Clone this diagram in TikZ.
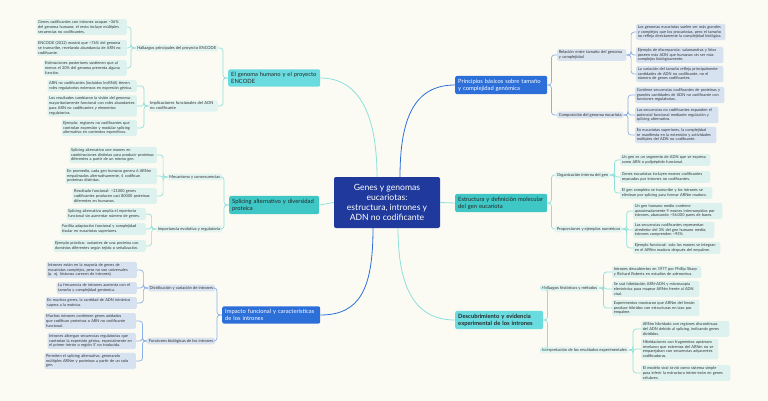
\documentclass[tikz,border=0pt]{standalone}
\usepackage{fontspec}
\setmainfont{Lato}
\begin{document}
\hyphenpenalty=10000\relax
\exhyphenpenalty=10000\relax
\begin{tikzpicture}[x=1pt,y=-1pt,
  every node/.style={font=\fontsize{3.9}{4.8}\selectfont, text=black!80, inner sep=1.6pt, rounded corners=1.5pt, align=left},
  leafT/.style={fill=tealL},
  leafB/.style={fill=blueL},
  subT/.style={fill=tealS, font=\fontsize{4.1}{5}\selectfont},
  subB/.style={fill=blueS, font=\fontsize{4.1}{5}\selectfont},
  mainC/.style={fill=cyanM, font=\fontsize{5.8}{7}\selectfont, inner sep=3pt, rounded corners=2pt, text=black!85},
  mainT/.style={fill=tealM, font=\fontsize{5.8}{7}\selectfont, inner sep=3pt, rounded corners=2pt, text=black!85},
  mainB/.style={fill=blueM, font=\fontsize{5.8}{7}\selectfont, inner sep=3pt, rounded corners=2pt, text=white},
  lT/.style={draw=tealLine, line width=0.7pt, rounded corners=3pt},
  lB/.style={draw=blueLine, line width=0.7pt, rounded corners=3pt},
  cT/.style={draw=tealLine, line width=0.8pt},
  cB/.style={draw=blueC, line width=0.8pt},
]
\definecolor{bg}{HTML}{FBFBF3}
\definecolor{tealL}{HTML}{DDF2EE}
\definecolor{blueL}{HTML}{D6E2F0}
\definecolor{tealS}{HTML}{E2F4F1}
\definecolor{blueS}{HTML}{DAE4F0}
\definecolor{cyanM}{HTML}{6ADCE0}
\definecolor{tealM}{HTML}{3FC7C6}
\definecolor{blueM}{HTML}{2C6FD9}
\definecolor{tealLine}{HTML}{8EE0DC}
\definecolor{blueLine}{HTML}{8CB0EA}
\definecolor{blueC}{HTML}{2C6FD9}
\definecolor{centerC}{HTML}{1F3A9C}
\fill[bg] (0,0) rectangle (768,401);
\useasboundingbox (0,0) rectangle (768,401);

% center
\node[fill=centerC, font=\fontsize{8.6}{10.2}\selectfont, align=center, minimum width=106pt, minimum height=51pt, inner sep=3pt, rounded corners=2pt, text=white] (c) at (387,202.5) {Genes y genomas\\eucariotas:\\estructura, intrones y\\ADN no codificante};
\coordinate (cn1) at (377,177);
\coordinate (cn4) at (400,177);
\coordinate (cs3) at (373,228);
\coordinate (cs6) at (398,228);

% ===== Left 1: ENCODE
\node[mainC, anchor=west, text width=86pt] (m1) at (228,78) {El genoma humano y el proyecto ENCODE};
\node[subT, anchor=east] (s11) at (218,48) {Hallazgos principales del proyecto ENCODE};
\node[subT, anchor=east, text width=66pt] (s12) at (218,106) {Implicaciones funcionales del ADN no codificante};
\node[leafT, anchor=east, text width=87pt] (l111) at (127,27) {Genes codificantes con intrones ocupan \textasciitilde36\% del genoma humano; el resto incluye múltiples secuencias no codificantes.};
\node[leafT, anchor=east, text width=87pt] (l112) at (127,48) {ENCODE (2012) mostró que \textasciitilde76\% del genoma se transcribe, revelando abundancia de ARN no codificante.};
\node[leafT, anchor=east, text width=80pt] (l113) at (127,68) {Estimaciones posteriores sostienen que al menos el 20\% del genoma presenta alguna función.};
\node[leafT, anchor=east, text width=86pt] (l121) at (137,86) {ARN no codificantes (incluidos lncRNA) tienen roles regulatorios extensos en expresión génica.};
\node[leafT, anchor=east, text width=86pt] (l122) at (137,106) {Los resultados cambiaron la visión del genoma: mayoritariamente funcional con roles abundantes para ARN no codificantes y elementos regulatorios.};
\node[leafT, anchor=east, text width=72pt] (l123) at (137,128) {Ejemplo: regiones no codificantes que controlan expresión y modular splicing alternativo en contextos específicos.};

% ===== Left 2: Splicing
\node[mainT, anchor=west, text width=84pt] (m2) at (229,205) {Splicing alternativo y diversidad proteica};
\node[subT, anchor=east] (s21) at (222,177) {Mecanismo y consecuencias};
\node[subT, anchor=east] (s22) at (222,229) {Importancia evolutiva y regulatoria};
\node[leafT, anchor=east, text width=84pt] (l211) at (157,155) {Splicing alternativo une exones en combinaciones distintas para producir proteínas diferentes a partir de un mismo gen.};
\node[leafT, anchor=east, text width=88pt] (l212) at (157,176) {En promedio, cada gen humano genera 6 ARNm empalmados alternativamente, 4 codifican proteínas distintas.};
\node[leafT, anchor=east, text width=81pt] (l213) at (157,196) {Resultado funcional: \textasciitilde21000 genes codificantes producen casi 80000 proteínas diferentes en humanos.};
\node[leafT, anchor=east, text width=76pt] (l221) at (146,214) {Splicing alternativo amplía el repertorio funcional sin aumentar número de genes.};
\node[leafT, anchor=east, text width=82pt] (l222) at (146,229) {Facilita adaptación funcional y complejidad tisular en eucariotas superiores.};
\node[leafT, anchor=east, text width=89pt] (l223) at (146,246) {Ejemplo práctico: variantes de una proteína con dominios diferentes según tejido o señalización.};

% ===== Left 3: Intrones
\node[mainB, anchor=west, text width=92pt] (m3) at (222,315) {Impacto funcional y características de los intrones};
\node[subB, anchor=east] (s31) at (215,288) {Distribución y variación de intrones};
\node[subB, anchor=east] (s32) at (215,341) {Funciones biológicas de los intrones};
\node[leafB, anchor=east, text width=87pt] (l311) at (137,270) {Intrones están en la mayoría de genes de eucariotas complejos, pero no son universales (p. ej. histonas carecen de intrones).};
\node[leafB, anchor=east, text width=77pt] (l312) at (137,288) {La frecuencia de intrones aumenta con el tamaño y complejidad genómica.};
\node[leafB, anchor=east, text width=88pt] (l313) at (137,303) {En muchos genes, la cantidad de ADN intrónico supera a la exónica.};
\node[leafB, anchor=east, text width=88pt] (l321) at (136,321) {Muchos intrones contienen genes anidados que codifican proteínas o ARN no codificante funcional.};
\node[leafB, anchor=east, text width=85pt] (l322) at (136,341) {Intrones albergan secuencias regulatorias que controlan la expresión génica, especialmente en el primer intrón o región 5' no traducida.};
\node[leafB, anchor=east, text width=88pt] (l323) at (136,361) {Permiten el splicing alternativo, generando múltiples ARNm y proteínas a partir de un solo gen.};

% ===== Right 1: Principios
\node[mainB, anchor=west, text width=86pt] (m4) at (455,85) {Principios básicos sobre tamaño y complejidad genómica};
\node[subB, anchor=west, text width=66pt] (s41) at (557,55) {Relación entre tamaño del genoma y complejidad};
\node[subB, anchor=west] (s42) at (557,115) {Composición del genoma eucariota};
\node[leafB, anchor=west, text width=86pt] (l411) at (636,32) {Los genomas eucariotas suelen ser más grandes y complejos que los procariotas, pero el tamaño no refleja directamente la complejidad biológica.};
\node[leafB, anchor=west, text width=84pt] (l412) at (636,55) {Ejemplo de discrepancia: salamandras y lirios poseen más ADN que humanos sin ser más complejos biológicamente.};
\node[leafB, anchor=west, text width=84pt] (l413) at (636,74) {La variación del tamaño refleja principalmente cantidades de ADN no codificante, no el número de genes codificantes.};
\node[leafB, anchor=west, text width=86pt] (l421) at (635,95) {Contiene secuencias codificantes de proteínas y grandes cantidades de ADN no codificante con funciones regulatorias.};
\node[leafB, anchor=west, text width=80pt] (l422) at (635,115) {Las secuencias no codificantes expanden el potencial funcional mediante regulación y splicing alternativo.};
\node[leafB, anchor=west, text width=78pt] (l423) at (635,135) {En eucariotas superiores, la complejidad se manifiesta en la extensión y actividades múltiples del ADN no codificante.};

% ===== Right 2: Estructura
\node[mainT, anchor=west, text width=86pt] (m5) at (455,203) {Estructura y definición molecular del gen eucariota};
\node[subT, anchor=west] (s51) at (555,175) {Organización interna del gen};
\node[subT, anchor=west] (s52) at (555,229) {Proporciones y ejemplos numéricos};
\node[leafT, anchor=west, text width=87pt] (l511) at (620,160) {Un gen es un segmento de ADN que se expresa como ARN o polipéptido funcional.};
\node[leafT, anchor=west, text width=87pt] (l512) at (620,177) {Genes eucariotas incluyen exones codificantes separados por intrones no codificantes.};
\node[leafT, anchor=west, text width=89pt] (l513) at (620,193) {El gen completo se transcribe y los intrones se eliminan por splicing para formar ARNm maduro.};
\node[leafT, anchor=west, text width=86pt] (l521) at (633,211) {Un gen humano medio contiene aproximadamente 9 exones interrumpidos por intrones, abarcando \textasciitilde56.000 pares de bases.};
\node[leafT, anchor=west, text width=78pt] (l522) at (633,230) {Las secuencias codificantes representan alrededor del 3\% del gen humano medio; intrones comprenden \textasciitilde95\%.};
\node[leafT, anchor=west, text width=84pt] (l523) at (633,248) {Ejemplo funcional: solo los exones se integran en el ARNm maduro después del empalme.};

% ===== Right 3: Descubrimiento
\node[mainC, anchor=west, text width=82pt, font=\bfseries\fontsize{5.8}{7}\selectfont] (m6) at (455,320) {Descubrimiento y evidencia experimental de los intrones};
\node[subT, anchor=west] (s61) at (540,288) {Hallazgos históricos y métodos};
\node[subT, anchor=west] (s62) at (540,350) {Interpretación de los resultados experimentales};
\node[leafT, anchor=west, text width=86pt] (l611) at (612,272) {Intrones descubiertos en 1977 por Phillip Sharp y Richard Roberts en estudios de adenovirus.};
\node[leafT, anchor=west, text width=84pt] (l612) at (612,289) {Se usó hibridación ARN-ADN y microscopía electrónica para mapear ARNm frente al ADN viral.};
\node[leafT, anchor=west, text width=84pt] (l613) at (612,308) {Experimentos mostraron que ARNm del hexón produce híbridos con estructuras en lazo por empalme.};
\node[leafT, anchor=west, text width=85pt] (l621) at (641,329) {ARNm hibridado con regiones discontinuas del ADN debido al splicing, indicando genes divididos.};
\node[leafT, anchor=west, text width=74pt] (l622) at (641,349) {Hibridaciones con fragmentos upstream revelaron que extremos del ARNm no se emparejaban con secuencias adyacentes codificadoras.};
\node[leafT, anchor=west, text width=86pt] (l623) at (641,373) {El modelo viral sirvió como sistema simple para inferir la estructura intrón-exón en genes celulares.};

% ===== connectors center -> mains
\draw[cT] (cn1) .. controls +(0,-60) and +(40,0) .. (m1.east);
\draw[cB] (cn4) .. controls +(0,-60) and +(-40,0) .. (m4.west);
\draw[cT] (c.west) -- (m2.east);
\draw[cT] (c.east) -- (m5.west);
\draw[cB] (cs3) .. controls +(0,60) and +(40,0) .. (m3.east);
\draw[cT] (cs6) .. controls +(0,60) and +(-40,0) .. (m6.west);
% mains to subs
\foreach \m/\s/\st in {m1/s11/lT,m1/s12/lT,m2/s21/lT,m2/s22/lT,m3/s31/lB,m3/s32/lB}
  \draw[\st] (\m.west) -- ++(-5,0) |- (\s.east);
\foreach \m/\s/\st in {m4/s41/lB,m4/s42/lB,m5/s51/lT,m5/s52/lT,m6/s61/lT,m6/s62/lT}
  \draw[\st] (\m.east) -- ++(4,0) |- (\s.west);
% subs to leaves
\foreach \s/\l/\st in {s11/l111/lT,s11/l112/lT,s11/l113/lT,s12/l121/lT,s12/l122/lT,s12/l123/lT,
  s21/l211/lT,s21/l212/lT,s21/l213/lT,s22/l221/lT,s22/l222/lT,s22/l223/lT,
  s31/l311/lB,s31/l312/lB,s31/l313/lB,s32/l321/lB,s32/l322/lB,s32/l323/lB}
  \draw[\st] (\s.west) -- ++(-4.5,0) |- (\l.east);
\foreach \s/\l/\st in {s41/l411/lB,s41/l412/lB,s41/l413/lB,s42/l421/lB,s42/l422/lB,s42/l423/lB,
  s51/l511/lT,s51/l512/lT,s51/l513/lT,s52/l521/lT,s52/l522/lT,s52/l523/lT,
  s61/l611/lT,s61/l612/lT,s61/l613/lT,s62/l621/lT,s62/l622/lT,s62/l623/lT}
  \draw[\st] (\s.east) -- ++(4.5,0) |- (\l.west);
\end{tikzpicture}
\end{document}
